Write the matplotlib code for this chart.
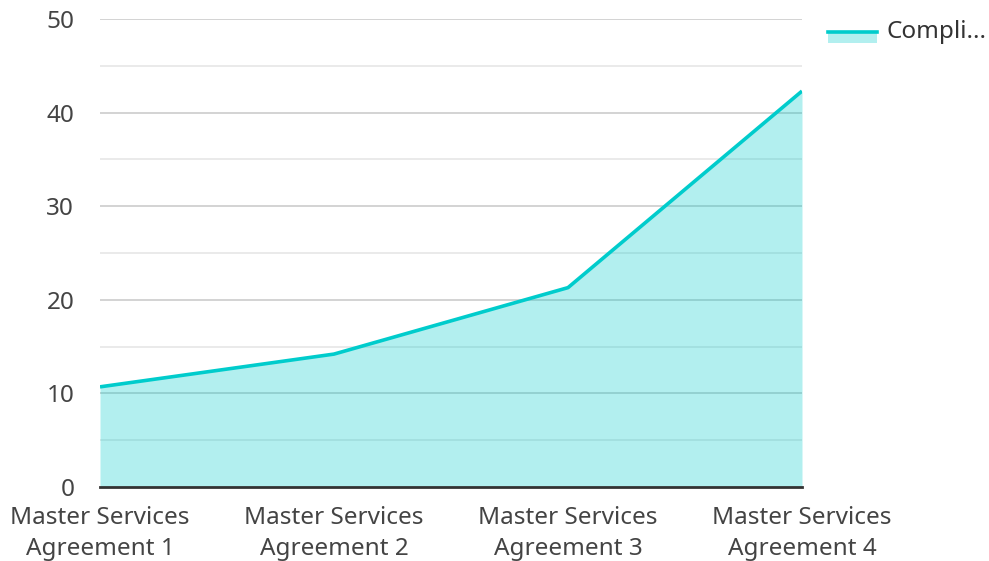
import matplotlib
matplotlib.use("Agg")
import matplotlib.pyplot as plt
from matplotlib.patches import Rectangle
from matplotlib.lines import Line2D

categories = ["Master Services\nAgreement 1", "Master Services\nAgreement 2",
              "Master Services\nAgreement 3", "Master Services\nAgreement 4"]
values = [10.7, 14.2, 21.3, 42.3]
series_name = "Compli..."
y_ticks = [0, 10, 20, 30, 40, 50]
y_minor = [5, 15, 25, 35, 45]

plt.rcParams['font.family'] = ['Noto Sans', 'DejaVu Sans']
W, H = 989, 561
fig = plt.figure(figsize=(W / 100, H / 100), dpi=100)
ax = fig.add_axes([100 / W, 1 - 487 / H, (802 - 100) / W, (487 - 19) / H])

line_color = "#00cccc"
fill_color = "#00cccc"
x = list(range(len(categories)))

for t in y_ticks[1:]:
    ax.axhline(t, color="#cccccc", lw=1.2, zorder=1)
for t in y_minor:
    ax.axhline(t, color="#e6e6e6", lw=1.2, zorder=1)

ax.fill_between(x, values, 0, color=fill_color, alpha=0.3, lw=0, zorder=2)
ax.plot(x, values, color=line_color, lw=2.6, zorder=3, solid_capstyle="butt")

ax.set_xlim(0, len(categories) - 1)
ax.set_ylim(0, 50)
ax.set_yticks(y_ticks)
ax.set_xticks(x)
ax.set_xticklabels(categories)
for s in ["top", "right", "left"]:
    ax.spines[s].set_visible(False)
ax.spines["bottom"].set_color("#333333")
ax.spines["bottom"].set_linewidth(2)
ax.spines["bottom"].set_zorder(4)
ax.tick_params(axis="both", length=0, labelsize=17.5, labelcolor="#444444")
ax.tick_params(axis="y", pad=18.5)
ax.tick_params(axis="x", pad=14)
for lab in ax.get_xticklabels():
    lab.set_linespacing(1.38)

# legend
fig.add_artist(Rectangle((828 / W, 1 - 43 / H), 49 / W, 11 / H,
                         transform=fig.transFigure, facecolor=fill_color,
                         alpha=0.3, lw=0))
fig.add_artist(Line2D([828 / W, 877 / W], [1 - 32 / H, 1 - 32 / H],
                      transform=fig.transFigure, color=line_color, lw=2.6))
fig.text(887 / W, 1 - 32 / H, series_name, fontsize=17.5, color="#333333",
         va="center", ha="left")

fig.savefig("out.png", dpi=100)
